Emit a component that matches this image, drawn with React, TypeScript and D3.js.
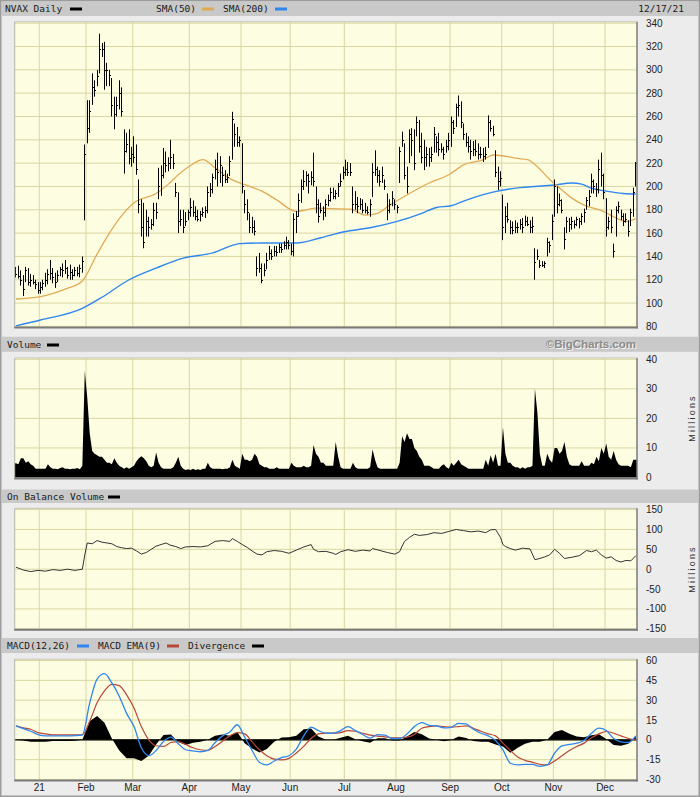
import React, { useEffect } from 'react';
import * as d3 from 'd3';

// ---------------- DATA ----------------
const highs = [
  131,132,128,124,131,130,125,124,120,118,
  118,120,126,129,137,130,126,128,131,134,137,131,133,129,131,131,133,140,236,
  274,274,297,291,300,331,323,324,306,300,293,277,277,291,285,249,246,249,234,
  243,236,206,189,186,180,174,172,186,186,216,218,233,230,225,240,228,203,195,180,180,178,180,
  190,188,183,180,179,182,183,200,203,211,223,229,226,217,214,211,226,264,254,251,243,
  237,197,189,177,174,171,140,143,134,134,143,149,146,149,149,151,151,153,157,154,
  151,177,179,194,206,214,213,211,213,229,200,189,186,183,189,193,199,199,197,203,211,217,
  223,221,220,200,196,191,190,189,186,183,189,220,231,217,214,217,206,194,189,196,189,
  184,234,247,237,217,249,250,249,260,257,246,240,234,233,234,251,243,246,237,234,240,246,
  260,257,271,278,273,254,246,243,240,239,240,237,234,233,234,261,257,252,231,217,213,
  193,183,186,171,170,171,169,172,173,175,174,171,174,147,146,137,136,136,156,153,176,
  206,200,194,189,165,174,173,174,171,174,173,177,181,191,197,211,206,203,223,229,211,
  190,174,180,151,183,187,180,177,177,171,181,199,221,
];
const lows = [
  122,121,115,106,118,115,114,116,112,108,
  108,111,114,116,120,117,113,118,123,122,125,121,120,120,123,123,122,126,171,
  237,246,270,277,286,297,311,283,286,286,260,249,260,266,260,211,229,219,217,
  220,210,177,157,147,157,157,163,166,172,189,192,207,212,213,215,215,191,160,166,160,166,171,
  174,174,171,170,170,174,173,177,191,194,206,200,203,200,203,203,209,223,234,234,234,
  194,177,171,160,160,158,123,126,117,123,129,137,137,140,140,143,143,146,146,146,
  141,140,160,174,186,197,200,194,201,200,177,169,177,171,174,183,187,189,189,191,200,206,
  209,209,209,177,180,177,180,177,177,176,174,191,209,203,200,203,197,171,177,183,180,
  177,203,234,206,194,220,226,214,243,229,220,214,217,217,221,229,229,226,229,223,229,231,
  234,245,251,260,250,240,234,229,223,226,226,223,224,221,223,233,247,243,208,197,200,
  154,160,169,159,159,160,160,163,160,166,166,160,160,120,137,130,131,130,140,143,154,
  174,177,183,177,146,160,161,163,164,166,164,167,169,180,183,194,194,191,194,200,189,
  157,163,160,139,157,177,171,166,169,157,166,174,200,
];
const closes = [
  125,123,120,112,128,118,120,118,116,111,
  114,117,120,125,126,122,118,124,129,128,130,124,127,124,128,126,130,136,228,
  250,265,285,283,295,318,318,300,300,296,270,262,270,280,265,230,236,224,228,
  225,215,185,165,152,170,165,168,180,178,200,210,220,218,220,225,220,195,170,172,165,170,178,
  182,178,175,172,176,178,180,195,198,208,215,212,218,210,206,208,222,258,245,238,240,
  200,185,178,165,165,162,130,130,120,128,137,143,140,145,144,148,146,150,152,150,
  145,172,175,188,200,205,210,205,208,205,185,175,180,178,185,188,195,192,194,200,205,212,
  215,212,212,185,185,183,185,180,180,178,185,212,215,210,205,210,200,180,185,190,185,
  182,230,240,210,200,245,240,220,255,235,225,225,228,225,228,245,238,232,232,228,235,240,
  255,250,268,270,255,245,238,235,230,232,230,228,228,226,228,255,250,245,212,205,207,
  165,175,172,165,163,165,165,168,165,170,168,165,166,135,140,133,133,134,152,150,170,
  200,185,188,180,155,170,168,170,168,172,170,175,178,188,192,205,200,198,215,210,195,
  165,170,165,145,180,183,175,170,172,162,178,195,220,
];
// daily volume, millions
const volumes = [
  4.8,4.5,6.5,6.5,5,5.5,4.5,4,3,3,
  3,3,3,4.5,3.5,3,3,2.8,3.2,3.5,
  3,3,2.8,3,3,3.2,2.8,4,
  36,27,
  15,9,8,7.5,7,7,6,5,5,4.5,
  6.5,5,4,3.5,3,3.5,3,3.5,
  4,5.5,6.5,7.2,6.5,5.5,4,3.5,4,8.5,
  5,3.5,3,3,3,3,3.5,5,7,4,
  3,2.5,2.8,2.5,3,2.5,2.8,2.5,3,3,
  5,3.5,3,3,3,3,2.8,3,3,3.5,
  6,4,3.5,3,8,6,6,5.5,6,8,
  7,4.5,4,3.5,3.5,3,3,3,3.5,3,
  3,3,3,3,5,4,3.5,3.5,3.5,4,
  3.5,3.5,4,11,8,7,5,5,4,4,
  4,4,12,7,3.5,3,3,3,3,5,
  3.5,3,3,3,3,3,3.5,9.5,6,3.5,
  3,3,3,3,3,3,3,3,5,14,
  12,15,13,13,10,9,7,6,4,4,
  4,3.5,3,3,3,4,4.5,3.5,3,5,
  4,5,6,4.5,4,3.5,3,3,3,3,
  3,3,3,6,4,7.5,5,8,4,4,
  17,8,5,5,4,3.5,3.5,3,3.5,3,
  3.5,3.5,4,30,22,8,4,4,8,6,
  5,10,10,8,9,12,7,4.5,4,4,
  4,4,5.5,4,4,4,5,4.5,7,5.5,
  10,8,11.5,7,6,9,6,4.5,4,4,
  4,4,3.5,6,6,
];
const sma50Days = [0,10,20,27,33,38,43,48,57,62,66,71,76,81,86,95,100,106,114,118,122,128,136,142,147,152,160,168,176,182,190,194,204,208,212,217,222,226,231,239,244,248,252];
const sma50Vals = [103.5,105.5,112,119,142,160,175,186,194,202,210,218,223,216,208,200,196,188.5,178.5,180,181.5,181,180.5,175.5,177,184,194,203,210,218.5,223,227,224,223,217,206,197,190,184,178.5,173,170,172.5];
const sma200Days = [0,10,27,35,46,57,68,80,91,100,114,124,133,145,155,165,171,177,184,190,197,205,211,218,226,230,234,240,247,252];
const sma200Vals = [80.5,85.5,95.5,105,120,130,138.5,143,151,151.5,151.5,156,161,165,170,177,182,183.5,189,193,196.5,199,200,201,203,202,198.5,196,194,193.5];
// On Balance Volume, millions
const obvDays = [0,3,6,9,12,15,18,21,24,27,28,29,31,33,35,37,39,41,43,45,47,49,51,53,55,57,59,61,63,65,67,69,72,75,78,81,84,87,88,90,92,94,96,98,100,102,105,108,111,114,117,120,121,123,126,129,130,132,135,138,141,144,145,148,151,154,156,157,158,160,162,164,167,170,173,176,179,182,185,188,191,193,195,197,198,199,201,203,206,209,211,213,215,217,219,221,223,226,229,232,234,236,238,240,242,244,246,248,250,252];
const obvVals = [5,-2,-6,-3,-5,-1,-3,0,-3,0,36,66,64,72,68,66,64,57,54,52,53,46,38,42,50,58,62,66,60,57,52,56,57,56,59,70,72,70,77,70,62,55,46,38,36,44,47,45,40,48,56,62,50,44,45,40,37,44,49,45,48,46,52,47,42,38,44,58,70,80,88,85,87,92,90,95,100,97,94,96,92,99,100,80,62,57,52,48,53,51,24,27,31,36,50,40,27,30,34,47,44,48,36,28,31,22,18,22,21,34];
// MACD(12,26) and its EMA(9), read every 3rd trading day
const MACD_SAMPLE = 3;
const macdVals = [10.6,8.5,6.5,4,3,3,3,3,3.2,3.8,28,46,50,43,33,20,10,-6,-12,-8,-1.3,2,-3,-7.5,-8.3,-9,-8,-2,3,6,11.4,2,-8,-17,-19,-16,-13.5,-12,-7,3,9.6,7,5,5,7,10,7,4,1.3,4,3.5,1,1,4.5,10,13,11,10.6,9,9.5,12.5,12,8,5,3,-0.5,-7.6,-17.7,-19,-18.5,-18.5,-20,-19,-10,-4.5,-3.5,-2.5,-0.5,5,8.8,7,1,-1.5,-2,3];
const signalVals = [10.6,9,8,5.5,4.5,3.8,3.8,3.8,3.8,3.8,14,28,37,42,41,34,24,10,0,-4.5,-5,-2,-1.3,-3.5,-6,-7.5,-8,-5,-1,3,5.5,4.5,-1.5,-7.5,-12,-14.6,-15.2,-14,-10,-5,1,4.5,5,5,5.5,7,6.5,5,3.5,2.8,2.3,1.5,1.5,2,4,8.8,10,10.6,10,9.6,10,10.6,8.8,6.5,4.5,3,-2.5,-8,-13,-15.5,-17,-18.5,-19,-16,-12,-8.1,-5,-2.5,1.5,4.5,6.3,5,3,1,0];

const priceTicks = [80,100,120,140,160,180,200,220,240,260,280,300,320,340];
const volTicks = [0,10,20,30,40];
const obvTicks = [-150,-100,-50,0,50,100,150];
const macdTicks = [-30,-15,0,15,30,45,60];
const holidays = ['2020-12-25','2021-01-01','2021-01-18','2021-02-15','2021-04-02','2021-05-31','2021-07-05','2021-09-06','2021-11-25'];
const firstDay = new Date(2020, 11, 17);
const symbol = 'NVAX Daily';
const asOf = '12/17/21';

// ---------------- LAYOUT / STYLE ----------------
const W = 700, H = 797;
const PL = 14.7, PR = 637;
const PLOT_BG = '#fdfde2';
const GRID = '#dad6a2';
const BAND = '#c9c9c9';
const OUTER = '#ececec';
const ORANGE = '#e2aa55';
const BLUE = '#2f86ee';
const RED = '#b5473a';
const MONO = '"DejaVu Sans Mono", monospace';
const SANS = '"Liberation Sans", Arial, sans-serif';

const P = {
  price: { top: 21.8, bottom: 327.6, r: [326.4, 23.2] },
  vol: { top: 358, bottom: 478.6, r: [477.5, 359.3] },
  obv: { top: 508.3, bottom: 629.8, r: [628.8, 509.6] },
  macd: { top: 659.2, bottom: 780.5, r: [779.5, 660.5] },
};

export default function App() {
  useEffect(() => {
    document.body.style.margin = '0';
  }, []);

  const n = highs.length;
  // trading calendar
  const hol = new Set(holidays);
  const fmtD = d3.timeFormat('%Y-%m-%d');
  const days: Date[] = [];
  let d = firstDay;
  while (days.length < n) {
    const wd = d.getDay();
    if (wd !== 0 && wd !== 6 && !hol.has(fmtD(d))) days.push(d);
    d = d3.timeDay.offset(d, 1);
  }
  const monthStarts = days
    .map((dt, i) => ({ dt, i }))
    .filter(({ dt, i }) => i > 0 && dt.getMonth() !== days[i - 1].getMonth());
  const fmtY = d3.timeFormat('%y');
  const fmtM = d3.timeFormat('%b');

  const x = d3.scaleLinear().domain([0, n]).range([PL, PR]);
  const yP = d3.scaleLinear().domain([80, 340]).range(P.price.r);
  const yV = d3.scaleLinear().domain([0, 40]).range(P.vol.r);
  const yO = d3.scaleLinear().domain([-150, 150]).range(P.obv.r);
  const yM = d3.scaleLinear().domain([-30, 60]).range(P.macd.r);

  const cx = (i: number) => Math.floor(x(i + 0.5)) + 0.5;

  const lineP = d3.line<[number, number]>().x(p => x(p[0] + 0.5)).y(p => yP(p[1])).curve(d3.curveMonotoneX);
  const sma50Path = lineP(sma50Days.map((dd, k) => [dd, sma50Vals[k]]));
  const sma200Path = lineP(sma200Days.map((dd, k) => [dd, sma200Vals[k]]));
  const obvPath = d3.line<[number, number]>().x(p => x(p[0] + 0.5)).y(p => yO(p[1]))(obvDays.map((dd, k) => [dd, obvVals[k]]));
  const volPts = volumes.map((v, i) => [i, v] as [number, number]);
  const volPath = d3
    .area<[number, number]>()
    .x(p => x(p[0] + 0.5))
    .y0(yV(0))
    .y1(p => yV(p[1]))([[-0.5, volumes[0]] as [number, number], ...volPts, [n - 0.5, volumes[n - 1]] as [number, number]]);
  const macdPts = macdVals.map((v, k) => ({ day: k * MACD_SAMPLE, m: v, s: signalVals[k], div: v - signalVals[k] }));
  const lineM = (key: 'm' | 's') => d3.line<any>().x(p => x(p.day + 0.5)).y(p => yM(p[key])).curve(d3.curveMonotoneX)(macdPts);
  const divPath = d3.area<any>().x(p => x(p.day + 0.5)).y0(yM(0)).y1(p => yM(p.div))(macdPts);

  const panelFrame = (key: keyof typeof P, ticks: number[], y: (v: number) => number) => {
    const p = P[key];
    return (
      <g>
        <rect x={PL} y={p.top} width={PR - PL} height={p.bottom - p.top} fill={PLOT_BG} />
        {ticks.map(t => (
          <line key={'h' + t} x1={PL} x2={PR} y1={y(t)} y2={y(t)} stroke={GRID} strokeWidth={1} />
        ))}
        {monthStarts.map(({ i }) => (
          <line key={'v' + i} x1={x(i)} x2={x(i)} y1={p.top} y2={p.bottom} stroke={GRID} strokeWidth={1} />
        ))}
      </g>
    );
  };
  const panelBorder = (key: keyof typeof P) => {
    const p = P[key];
    return (
      <g>
        <line x1={PL} x2={PR} y1={p.top} y2={p.top} stroke="#c4c4b4" strokeWidth={1} />
        <line x1={PL} x2={PL} y1={p.top} y2={p.bottom} stroke="#b4b4aa" strokeWidth={1} />
        <line x1={PR} x2={PR} y1={p.top} y2={p.bottom + 1} stroke="#7a7a7a" strokeWidth={1.5} />
        <line x1={PL - 0.5} x2={PR + 0.7} y1={p.bottom} y2={p.bottom} stroke="#7a7a7a" strokeWidth={2} />
      </g>
    );
  };
  const axisLabels = (ticks: number[], y: (v: number) => number) =>
    ticks.map(t => (
      <text key={'l' + t} x={646} y={y(t)} dy="0.35em" fontFamily={SANS} fontSize={10} fill="#222">
        {t}
      </text>
    ));
  const band = (y0: number, y1: number) => <rect x={2} y={y0} width={696} height={y1 - y0} fill={BAND} />;
  const hText = (s: string, xx: number, yy: number, anchor = 'start') => (
    <text x={xx} y={yy} dy="0.35em" fontFamily={MONO} fontSize={9.5} fill="#1a1a1a" textAnchor={anchor as any}>
      {s}
    </text>
  );
  const swatch = (xx: number, yy: number, color: string) => <rect x={xx} y={yy - 1.5} width={12} height={3} fill={color} />;
  const millions = (cy: number) => (
    <text
      transform={`translate(692,${cy}) rotate(-90)`}
      textAnchor="middle"
      dy="0.35em"
      fontFamily={SANS}
      fontSize={9}
      letterSpacing={2.2}
      fill="#333"
    >
      Millions
    </text>
  );

  return (
    <svg width={W} height={H} style={{ position: 'absolute', left: 0, top: 0, display: 'block' }}>
      <rect x={0} y={0} width={W} height={H} fill={OUTER} />
      <rect x={0.75} y={0.75} width={W - 1.5} height={H - 1.5} fill="none" stroke="#9c9c9c" strokeWidth={1.5} />

      {/* header bands */}
      {band(1.5, 16)}
      {band(336.7, 351.8)}
      {band(489.5, 503)}
      {band(638, 653)}

      {/* legends */}
      {hText(symbol, 5, 8.5)}
      {swatch(70, 9, '#000')}
      {hText('SMA(50)', 156, 8.5)}
      {swatch(202, 9, ORANGE)}
      {hText('SMA(200)', 223, 8.5)}
      {swatch(275, 9, BLUE)}
      {hText(asOf, 684, 8.5, 'end')}

      {hText('Volume', 7, 344.5)}
      {swatch(47, 345, '#000')}
      <text x={637} y={349} fontFamily={SANS} fontWeight="bold" fontSize={11.5} fill="#f4f4f4" textAnchor="end">©BigCharts.com</text>
      <text x={636} y={348} fontFamily={SANS} fontWeight="bold" fontSize={11.5} fill="#8a8a8a" textAnchor="end">©BigCharts.com</text>

      {hText('On Balance Volume', 7, 496.5)}
      {swatch(108, 497, '#000')}

      {hText('MACD(12,26)', 7, 645.5)}
      {swatch(77, 646, BLUE)}
      {hText('MACD EMA(9)', 98, 645.5)}
      {swatch(167, 646, RED)}
      {hText('Divergence', 188, 645.5)}
      {swatch(252, 646, '#000')}

      {/* PRICE PANEL */}
      {panelFrame('price', priceTicks, yP)}
      <path d={sma200Path || ''} fill="none" stroke={BLUE} strokeWidth={1.4} />
      <path d={sma50Path || ''} fill="none" stroke={ORANGE} strokeWidth={1.3} />
      <g stroke="#000" strokeWidth={1}>
        {highs.map((h, i) => (
          <g key={i}>
            <line x1={cx(i)} x2={cx(i)} y1={yP(h)} y2={yP(lows[i])} />
            <line x1={cx(i)} x2={cx(i) + 1.5} y1={Math.round(yP(closes[i])) + 0.5} y2={Math.round(yP(closes[i])) + 0.5} />
          </g>
        ))}
      </g>
      {panelBorder('price')}
      {axisLabels(priceTicks, yP)}

      {/* VOLUME PANEL */}
      {panelFrame('vol', volTicks.slice(1), yV)}
      <path d={volPath || ''} fill="#000" />
      {panelBorder('vol')}
      {axisLabels(volTicks, yV)}
      {millions(418)}

      {/* OBV PANEL */}
      {panelFrame('obv', obvTicks, yO)}
      <path d={obvPath || ''} fill="none" stroke="#333" strokeWidth={1} />
      {panelBorder('obv')}
      {axisLabels(obvTicks, yO)}
      {millions(569)}

      {/* MACD PANEL */}
      {panelFrame('macd', macdTicks, yM)}
      <path d={divPath || ''} fill="#000" />
      <line x1={PL} x2={PR} y1={yM(0)} y2={yM(0)} stroke="#000" strokeWidth={1.3} />
      <path d={lineM('s') || ''} fill="none" stroke={RED} strokeWidth={1.2} />
      <path d={lineM('m') || ''} fill="none" stroke={BLUE} strokeWidth={1.3} />
      {panelBorder('macd')}
      {axisLabels(macdTicks, yM)}

      {/* month labels */}
      {monthStarts.map(({ dt, i }) => (
        <text key={'m' + i} x={x(i)} y={791} textAnchor="middle" fontFamily={SANS} fontSize={10} fill="#222">
          {dt.getMonth() === 0 ? fmtY(dt) : fmtM(dt)}
        </text>
      ))}
    </svg>
  );
}
